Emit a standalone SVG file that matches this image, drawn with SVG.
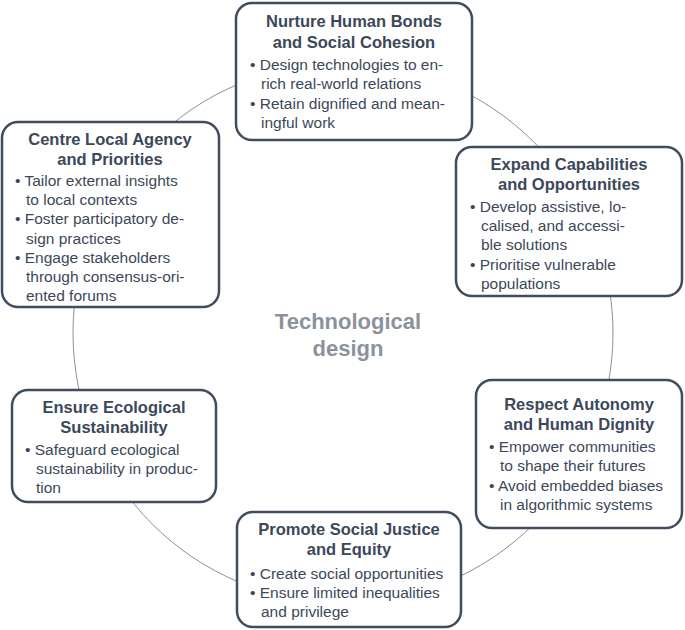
<svg xmlns="http://www.w3.org/2000/svg" width="685" height="630" viewBox="0 0 685 630">
<style>
.b{fill:#fff;stroke:#404d5e;stroke-width:2.5}
.t{font-family:"Liberation Sans",Arial,sans-serif;font-size:16.5px;fill:#3b4859;font-weight:bold;text-anchor:middle}
.l{font-family:"Liberation Sans",Arial,sans-serif;font-size:15.5px;fill:#3b4859}
.c{font-family:"Liberation Sans",Arial,sans-serif;font-size:22px;fill:#8a939c;font-weight:bold;text-anchor:middle}
</style>
<rect width="685" height="630" fill="#fff"/>
<g id="connectors"><circle cx="343" cy="333" r="270" fill="none" stroke="#8a8f96" stroke-width="1"/></g>
<g id="center"><text class="c" x="348" y="329">Technological</text><text class="c" x="348" y="356">design</text></g>
<g id="n1"><rect class="b" x="236" y="3" width="236" height="137" rx="16"/>
<text class="t" x="354" y="27">Nurture Human Bonds</text><text class="t" x="354" y="48">and Social Cohesion</text>
<text class="l" x="250" y="70">• Design technologies to en-</text><text class="l" x="261" y="89">rich real-world relations</text>
<text class="l" x="250" y="109">• Retain dignified and mean-</text><text class="l" x="261" y="128">ingful work</text></g>
<g id="n2"><rect class="b" x="2" y="122" width="217" height="185" rx="16"/>
<text class="t" x="110" y="145">Centre Local Agency</text><text class="t" x="110" y="165">and Priorities</text>
<text class="l" x="15" y="186">• Tailor external insights</text><text class="l" x="26" y="205">to local contexts</text>
<text class="l" x="15" y="224">• Foster participatory de-</text><text class="l" x="26" y="244">sign practices</text>
<text class="l" x="15" y="263">• Engage stakeholders</text><text class="l" x="26" y="282">through consensus-ori-</text><text class="l" x="26" y="301">ented forums</text></g>
<g id="n3"><rect class="b" x="456" y="147" width="226" height="149" rx="16"/>
<text class="t" x="569" y="170">Expand Capabilities</text><text class="t" x="569" y="190">and Opportunities</text>
<text class="l" x="470" y="212">• Develop assistive, lo-</text><text class="l" x="481" y="231">calised, and accessi-</text><text class="l" x="481" y="250">ble solutions</text>
<text class="l" x="470" y="270">• Prioritise vulnerable</text><text class="l" x="481" y="289">populations</text></g>
<g id="n4"><rect class="b" x="12" y="390" width="204" height="112" rx="16"/>
<text class="t" x="114" y="413">Ensure Ecological</text><text class="t" x="114" y="433">Sustainability</text>
<text class="l" x="25" y="455">• Safeguard ecological</text><text class="l" x="36" y="474">sustainability in produc-</text><text class="l" x="36" y="493">tion</text></g>
<g id="n5"><rect class="b" x="476" y="380" width="206" height="148" rx="16"/>
<text class="t" x="579" y="410">Respect Autonomy</text><text class="t" x="579" y="430">and Human Dignity</text>
<text class="l" x="489" y="452">• Empower communities</text><text class="l" x="500" y="471">to shape their futures</text>
<text class="l" x="489" y="491">• Avoid embedded biases</text><text class="l" x="500" y="510">in algorithmic systems</text></g>
<g id="n6"><rect class="b" x="237" y="512" width="224" height="115" rx="16"/>
<text class="t" x="349" y="535">Promote Social Justice</text><text class="t" x="349" y="555">and Equity</text>
<text class="l" x="250" y="579">• Create social opportunities</text>
<text class="l" x="250" y="598">• Ensure limited inequalities</text><text class="l" x="261" y="617">and privilege</text></g>
</svg>
